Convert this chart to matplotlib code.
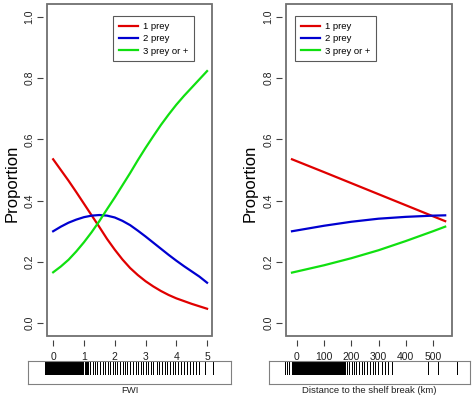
import matplotlib.pyplot as plt
from matplotlib.patches import Rectangle

plt.rcParams['font.family'] = ['Liberation Sans', 'DejaVu Sans']

# Predicted proportions vs FWI
fwi = [0, 0.25, 0.5, 0.75, 1.0, 1.25, 1.5, 1.75, 2.0, 2.25, 2.5,
       2.75, 3.0, 3.25, 3.5, 3.75, 4.0, 4.25, 4.5, 4.75, 5.0]
fwi_1prey = [0.535, 0.50, 0.465, 0.428, 0.39, 0.352, 0.314, 0.275, 0.24, 0.208, 0.18,
             0.157, 0.137, 0.12, 0.105, 0.092, 0.081, 0.072, 0.063, 0.055, 0.047]
fwi_2prey = [0.300, 0.315, 0.328, 0.338, 0.346, 0.351, 0.353, 0.351, 0.345, 0.334, 0.320,
             0.302, 0.283, 0.263, 0.243, 0.223, 0.204, 0.186, 0.169, 0.152, 0.132]
fwi_3prey = [0.166, 0.185, 0.207, 0.234, 0.264, 0.297, 0.333, 0.372, 0.410, 0.450, 0.490,
             0.532, 0.572, 0.610, 0.647, 0.681, 0.713, 0.742, 0.769, 0.796, 0.823]

# Predicted proportions vs distance to the shelf break
dist = [-18, 100, 200, 300, 400, 500, 545]
dist_1prey = [0.535, 0.493, 0.457, 0.421, 0.385, 0.349, 0.333]
dist_2prey = [0.300, 0.318, 0.331, 0.341, 0.347, 0.351, 0.352]
dist_3prey = [0.165, 0.189, 0.212, 0.238, 0.268, 0.300, 0.315]

# Observations (rug)
fwi_obs = [0.00, 0.02, 0.05, 0.07, 0.10, 0.13, 0.15, 0.18, 0.21, 0.23, 0.26, 0.29,
           0.31, 0.34, 0.37, 0.40, 0.42, 0.45, 0.48, 0.50, 0.53, 0.56, 0.59, 0.61,
           0.64, 0.67, 0.70, 0.72, 0.75, 0.78, 0.81, 0.83, 0.86, 0.89, 0.92, 0.94,
           0.97, 1.00, 1.03, 1.05, 1.08, 1.11, 1.14, 1.17, 1.20, 1.23, 1.26,
           1.33, 1.41, 1.48, 1.55, 1.63, 1.71, 1.78, 1.86, 1.92, 2.00, 2.07, 2.14,
           2.22, 2.30, 2.37, 2.43, 2.51, 2.61, 2.69, 2.75, 2.83, 2.91, 2.99, 3.06,
           3.13, 3.20, 3.30, 3.38, 3.45, 3.55, 3.62, 3.70, 3.78, 3.85, 3.94, 4.01,
           4.11, 4.19, 4.29, 4.39, 4.47, 4.56, 4.73, 4.98]
dist_obs = [-18, -10, -4, 4, 9, 11, 13, 16, 18, 21, 24, 27, 30, 32, 35, 38, 41,
            44, 46, 49, 52, 55, 58, 60, 63, 66, 69, 72, 74, 77, 80, 83, 86, 88,
            91, 94, 97, 100, 102, 105, 108, 111, 114, 116, 119, 122, 125, 128,
            130, 133, 136, 139, 142, 144, 147, 150, 153, 156, 158, 161, 164, 167,
            170, 172, 175, 177, 183, 191, 199, 207, 215, 224, 233, 240, 250,
            259, 269, 275, 286, 297, 308, 318, 330, 449, 481, 543]

labels = ['1 prey', '2 prey', '3 prey or +']
colors = ['#e00000', '#0000d0', '#10e010']

fig = plt.figure(figsize=(4.74, 3.98), dpi=100)

W, H = 474.0, 398.0
def box(x0, y0, x1, y1):
    return [x0 / W, 1 - y1 / H, (x1 - x0) / W, (y1 - y0) / H]

ax1 = fig.add_axes(box(47, 4, 212, 336))
ax2 = fig.add_axes(box(286, 4, 452, 336))
rug1 = fig.add_axes(box(28, 361, 231, 384))
rug2 = fig.add_axes(box(269, 361, 470, 384))


def style_main(ax, xticks):
    for s in ax.spines.values():
        s.set_visible(False)
    ax.spines['bottom'].set_position(('outward', 3))
    ax.spines['left'].set_position(('outward', 3))
    ax.add_patch(Rectangle((0, 0), 1, 1, transform=ax.transAxes, fill=False,
                           edgecolor='#707070', lw=1.3, clip_on=False))
    ax.set_ylim(-0.042, 1.042)
    ax.set_yticks([0, 0.2, 0.4, 0.6, 0.8, 1.0])
    ax.set_yticklabels(['0.0', '0.2', '0.4', '0.6', '0.8', '1.0'])
    ax.set_xticks(xticks)
    ax.tick_params(direction='out', length=4, width=0.8, color='#404040',
                   labelsize=7.5, labelcolor='#202020')
    ax.tick_params(axis='x', pad=4.5)
    ax.tick_params(axis='y', pad=2)
    for lab in ax.get_yticklabels():
        lab.set_rotation(90)
        lab.set_va('center')


# FWI panel
ax1.plot(fwi, fwi_1prey, color=colors[0], lw=1.6, label=labels[0])
ax1.plot(fwi, fwi_2prey, color=colors[1], lw=1.6, label=labels[1])
ax1.plot(fwi, fwi_3prey, color=colors[2], lw=1.6, label=labels[2])
ax1.set_xlim(-0.2, 5.16)
style_main(ax1, [0, 1, 2, 3, 4, 5])
leg = ax1.legend(loc='upper left', bbox_to_anchor=(0.40, 0.963), fontsize=6.8,
                 frameon=True, fancybox=False, handlelength=2.0, labelspacing=0.35,
                 borderpad=0.6, handletextpad=0.6, borderaxespad=0)
leg.get_frame().set_edgecolor('#303030')
leg.get_frame().set_linewidth(0.8)

# Distance panel
ax2.plot(dist, dist_1prey, color=colors[0], lw=1.6, label=labels[0])
ax2.plot(dist, dist_2prey, color=colors[1], lw=1.6, label=labels[1])
ax2.plot(dist, dist_3prey, color=colors[2], lw=1.6, label=labels[2])
ax2.set_xlim(-40, 570)
style_main(ax2, [0, 100, 200, 300, 400, 500])
leg = ax2.legend(loc='upper left', bbox_to_anchor=(0.054, 0.963), fontsize=6.8,
                 frameon=True, fancybox=False, handlelength=2.0, labelspacing=0.35,
                 borderpad=0.6, handletextpad=0.6, borderaxespad=0)
leg.get_frame().set_edgecolor('#303030')
leg.get_frame().set_linewidth(0.8)

fig.text(12 / W, 1 - 183 / H, 'Proportion', rotation=90, ha='center', va='center',
         fontsize=12)
fig.text(250 / W, 1 - 183 / H, 'Proportion', rotation=90, ha='center', va='center',
         fontsize=12)

# Rugs
for rug, obs, lim, name in [(rug1, fwi_obs, (-0.5, 5.5), 'FWI'),
                            (rug2, dist_obs, (-70, 585), 'Distance to the shelf break (km)')]:
    rug.vlines(obs, 0.44, 1.0, transform=rug.get_xaxis_transform(),
               color='black', lw=0.72, antialiased=False)
    rug.set_xlim(*lim)
    rug.set_ylim(0, 1)
    rug.set_xticks([])
    rug.set_yticks([])
    for s in rug.spines.values():
        s.set_edgecolor('#808080')
        s.set_linewidth(0.8)
    rug.set_xlabel(name, fontsize=6.8, labelpad=1.5, color='#202020')

fig.savefig('out.png', dpi=100)
